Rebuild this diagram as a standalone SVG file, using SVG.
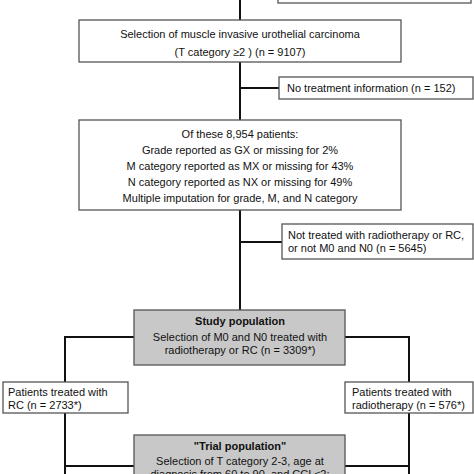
<svg xmlns="http://www.w3.org/2000/svg" width="474" height="474" viewBox="0 0 474 474">
<style>
.box{fill:#fff;stroke:#555;stroke-width:1.3}
.gbox{fill:#c8c8c8;stroke:#555;stroke-width:1.3}
.ln{fill:none;stroke:#111;stroke-width:2}
text{font-family:"Liberation Sans",Arial,sans-serif;font-size:11px;fill:#111}
.c{text-anchor:middle}
.b{font-weight:bold}
</style>
<rect width="474" height="474" fill="#fff"/>
<g id="connectors">
<path class="ln" d="M240 0V310"/>
<path class="ln" d="M240 88H279"/>
<path class="ln" d="M240 242H282"/>
<path class="ln" d="M134 337H65V474"/>
<path class="ln" d="M345 337H409V474"/>
<path class="ln" d="M65 466H134"/>
<path class="ln" d="M409 466H345"/>
</g>
<g id="top">
<rect class="box" x="278" y="-10" width="193" height="13"/>
</g>
<g id="selection">
<rect class="box" x="79" y="20" width="322" height="42"/>
<text class="c" x="240" y="38">Selection of muscle invasive urothelial carcinoma</text>
<text class="c" x="240" y="56">(T category ≥2 ) (n = 9107)</text>
</g>
<g id="notreat">
<rect class="box" x="279" y="77" width="194" height="22"/>
<text x="287" y="92">No treatment information (n = 152)</text>
</g>
<g id="ofthese">
<rect class="box" x="79" y="120" width="322" height="90"/>
<text class="c" x="240" y="138">Of these 8,954 patients:</text>
<text class="c" x="240" y="154">Grade reported as GX or missing for 2%</text>
<text class="c" x="240" y="170">M category reported as MX or missing for 43%</text>
<text class="c" x="240" y="186">N category reported as NX or missing for 49%</text>
<text class="c" x="240" y="202">Multiple imputation for grade, M, and N category</text>
</g>
<g id="nottreated">
<rect class="box" x="282" y="224" width="191" height="35"/>
<text x="288" y="239">Not treated with radiotherapy or RC,</text>
<text x="288" y="252">or not M0 and N0 (n = 5645)</text>
</g>
<g id="study">
<rect class="gbox" x="134" y="310" width="211" height="55"/>
<text class="c b" x="240" y="325">Study population</text>
<text class="c" x="240" y="341">Selection of M0 and N0 treated with</text>
<text class="c" x="240" y="354">radiotherapy or RC (n = 3309*)</text>
</g>
<g id="rc">
<rect class="box" x="3" y="382" width="125" height="31"/>
<text x="8" y="396">Patients treated with</text>
<text x="8" y="409">RC (n = 2733*)</text>
</g>
<g id="radio">
<rect class="box" x="345" y="382" width="128" height="31"/>
<text x="352" y="396">Patients treated with</text>
<text x="352" y="409">radiotherapy (n = 576*)</text>
</g>
<g id="trial">
<rect class="gbox" x="134" y="435" width="211" height="50"/>
<text class="c b" x="240" y="450">"Trial population"</text>
<text class="c" x="240" y="465">Selection of T category 2-3, age at</text>
<text class="c" x="240" y="478">diagnosis from 60 to 90, and CCI ≤2;</text>
</g>
</svg>
